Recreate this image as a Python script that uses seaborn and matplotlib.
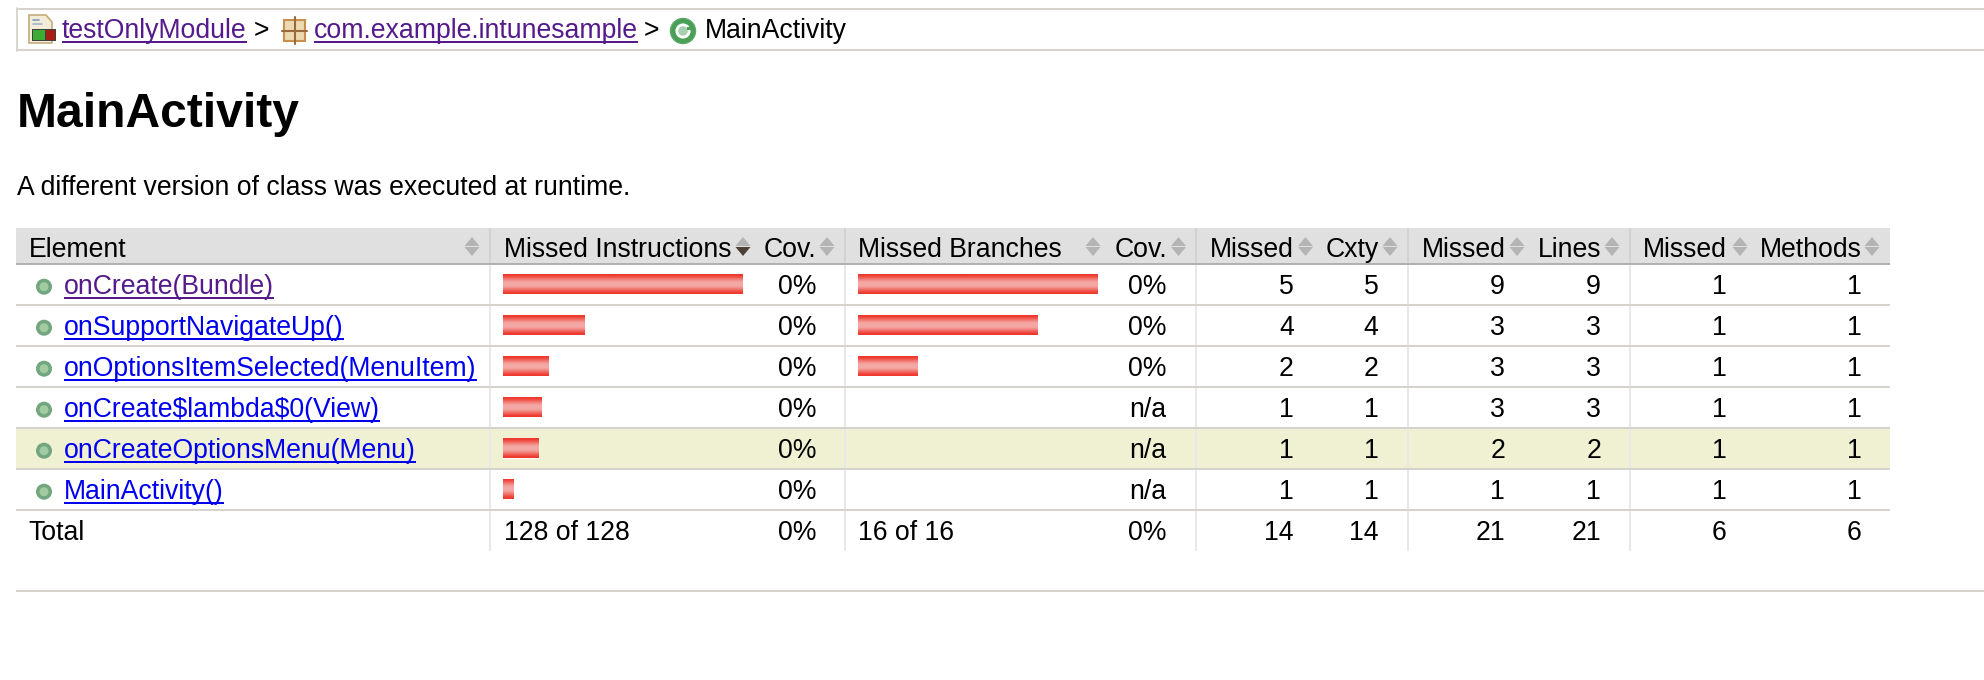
import numpy as np
import pandas as pd
import matplotlib
matplotlib.use("Agg")
import matplotlib.pyplot as plt
from matplotlib.patches import Rectangle, Ellipse, Polygon, Circle
import seaborn as sns

sns.set_theme(style="white")
plt.rcParams['font.family'] = ['Liberation Sans', 'DejaVu Sans']

# ---- data ----
elements = ["onCreate(Bundle)", "onSupportNavigateUp()", "onOptionsItemSelected(MenuItem)",
            "onCreate$lambda$0(View)", "onCreateOptionsMenu(Menu)", "MainActivity()"]
missed_instructions = [68, 23, 13, 11, 10, 3]
missed_branches = [8, 6, 2, np.nan, np.nan, np.nan]
instr_cov = ["0%", "0%", "0%", "0%", "0%", "0%"]
branch_cov = ["0%", "0%", "0%", "n/a", "n/a", "n/a"]
missed_cxty = [5, 4, 2, 1, 1, 1]
cxty = [5, 4, 2, 1, 1, 1]
missed_lines = [9, 3, 3, 3, 2, 1]
lines = [9, 3, 3, 3, 2, 1]
missed_methods = [1, 1, 1, 1, 1, 1]
methods = [1, 1, 1, 1, 1, 1]
total_row = ["128 of 128", "0%", "16 of 16", "0%", "14", "14", "21", "21", "6", "6"]
headers = ["Element", "Missed Instructions", "Cov.", "Missed Branches", "Cov.", "Missed", "Cxty",
           "Missed", "Lines", "Missed", "Methods"]
crumbs = ["testOnlyModule", "com.example.intunesample", "MainActivity"]
title = "MainActivity"
note = "A different version of class was executed at runtime."

W, H = 1984, 680
fig = plt.figure(figsize=(W / 100, H / 100), dpi=100, facecolor="white")
bg = fig.add_axes([0, 0, 1, 1])
bg.set_xlim(0, W)
bg.set_ylim(H, 0)
bg.set_axis_off()

BODY = 26.67 * 0.72
LINE = "#d6d3ce"
COL = "#e8e8e8"
PURPLE = "#551a8b"
BLUE = "#0000ee"
renderer = fig.canvas.get_renderer()


def hline(x0, x1, y, color=LINE, lw=2, z=2):
    bg.plot([x0, x1], [y, y], color=color, lw=lw * 0.72, solid_capstyle="butt", zorder=z)


def label(x, y, s, ha="left", color="black", size=BODY, weight="normal", underline=False):
    t = bg.text(x, y, s, ha=ha, va="baseline", color=color, fontsize=size, fontweight=weight,
                zorder=5, parse_math=False)
    if underline:
        w = t.get_window_extent(renderer).width
        hline(x, x + w, y + 3.5, color=color, lw=2, z=5)
    return t


# ---- breadcrumb ----
hline(16, W, 8.5)
hline(16, W, 50)
bg.plot([16.5, 16.5], [8, 50.5], color=LINE, lw=1.3, zorder=2)
# session icon
bg.add_patch(Polygon([(29, 15), (46, 15), (52, 22), (52, 43), (29, 43)], closed=True,
                     fc="#f3ecd6", ec="#c2ad7c", lw=1.2, zorder=3))
bg.plot([33, 39], [20, 20], color="#7f9fc0", lw=1.2, zorder=4)
bg.plot([33, 42], [24, 24], color="#9fb4cc", lw=1.2, zorder=4)
bg.add_patch(Rectangle((32, 29), 24, 12, fc="#404040", ec="none", zorder=4))
bg.add_patch(Rectangle((33, 30), 12, 10, fc="#3cac34", ec="none", zorder=5))
bg.add_patch(Rectangle((46, 30), 9, 10, fc="#a81e16", ec="none", zorder=5))
# package icon
bg.add_patch(Rectangle((284, 19.5), 21, 21, fc="#edd9b2", ec="#c8904e", lw=1.5, zorder=3))
bg.plot([294.5, 294.5], [17, 44], color="#9a6a3c", lw=1.5, zorder=4)
bg.plot([282, 307], [30.5, 30.5], color="#9a6a3c", lw=1.5, zorder=4)
# class icon
bg.add_patch(Circle((683, 31), 12.5, fc="#4a9f58", ec="#5aa766", lw=1, zorder=3))
bg.add_patch(Circle((683, 31), 6.2, fc="#a9d0ae", ec="white", lw=2.0, zorder=4))
bg.add_patch(Rectangle((687, 26.5), 5, 3.5, fc="#4a9f58", ec="none", zorder=5))

label(62, 38, crumbs[0], color=PURPLE, underline=True)
label(254, 38, ">")
label(314, 38, crumbs[1], color=PURPLE, underline=True)
label(644, 38, ">")
label(705, 38, crumbs[2])

# ---- heading ----
label(17, 127, title, size=48 * 0.72, weight="bold")
label(17, 195, note)

# ---- table frame ----
TL, TR = 16, 1890
PITCH = 41
ROW0 = 263.5
centers = [ROW0 + PITCH * (i + 0.5) for i in range(len(elements))]
bg.add_patch(Rectangle((TL, 228), TR - TL, 35, fc="#e0e0e0", ec="none", zorder=1))
bg.add_patch(Rectangle((TL, centers[4] - PITCH / 2), TR - TL, PITCH, fc="#f0f0d3", ec="none", zorder=1))
hline(TL, TR, 263.5, color="#b0b0b0", z=3)
for i in range(1, len(elements) + 1):
    hline(TL, TR, ROW0 + PITCH * i)
col_seps = [490, 845, 1196, 1408, 1629.5]
for x in col_seps:
    bg.plot([x, x], [264, 551], color=COL, lw=1.44, solid_capstyle="butt", zorder=1.5)
    bg.plot([x, x], [228, 263], color="#d2d2d2", lw=1.44, solid_capstyle="butt", zorder=2)
hline(16, W, 591)

# ---- header ----
hdr_x = [28.5, 504, 764, 858, 1115, 1210, 1326, 1421.5, 1537.5, 1643, 1760]
arrow_x = [472, 743, 827, 1093, 1178.5, 1305.5, 1390, 1517, 1612, 1740, 1872]
for k, (s, x, ax_) in enumerate(zip(headers, hdr_x, arrow_x)):
    label(x, 257, s)
    bg.add_patch(Polygon([(ax_ - 7.5, 246), (ax_ + 7.5, 246), (ax_, 237)], closed=True, fc="#b4b4b4", ec="none", zorder=4))
    dark = k == 1
    bg.add_patch(Polygon([(ax_ - 7.5, 247), (ax_ + 7.5, 247), (ax_, 256)], closed=True,
                         fc="#4d4036" if dark else "#b4b4b4", ec="none", zorder=4))

# ---- body ----
BASE = 10
for i, (name, yc) in enumerate(zip(elements, centers)):
    bg.add_patch(Ellipse((44, yc + 2.7), 16, 16, fc="#72a67e", ec="none", zorder=4))
    bg.add_patch(Ellipse((44, yc + 2.7), 9, 9, fc="#a2cba2", ec="none", zorder=4))
    label(64, yc + BASE, name, color=PURPLE if i == 0 else BLUE, underline=True)
    label(816.5, yc + BASE, instr_cov[i], ha="right")
    label(1166.5, yc + BASE, branch_cov[i], ha="right")
    for x, col in zip([1294, 1378.5, 1505, 1601, 1726.5, 1861.5],
                      [missed_cxty, cxty, missed_lines, lines, missed_methods, methods]):
        label(x, yc + BASE, str(col[i]), ha="right")

# ---- total ----
yt = ROW0 + PITCH * 6.5 + BASE
label(28.5, yt, "Total")
label(504, yt, total_row[0])
label(816.5, yt, total_row[1], ha="right")
label(858, yt, total_row[2])
label(1166.5, yt, total_row[3], ha="right")
for x, s in zip([1294, 1378.5, 1505, 1601, 1726.5, 1861.5], total_row[4:]):
    label(x, yt, s, ha="right")

# ---- bars ----
stops = np.array([[238, 56, 46], [240, 90, 80], [242, 130, 125], [244, 165, 162], [244, 170, 168],
                  [244, 165, 162], [242, 130, 125], [240, 90, 80], [238, 56, 46]]) / 255.0
grad = stops[:, None, :]


def bar_column(values, x_left, width_px):
    ax = fig.add_axes([x_left / W, 1 - (ROW0 + PITCH * 6) / H, width_px / W, PITCH * 6 / H])
    df = pd.DataFrame({"element": elements, "value": values}).dropna()
    sns.barplot(data=df, y="element", x="value", order=elements, orient="h",
                width=20 / PITCH, color="#ee382e", saturation=1, ax=ax)
    xlim = (0, np.nanmax(values))
    ylim = (len(elements) - 0.5, -0.5)
    for b in list(ax.patches):
        x, y, w, h = b.get_x(), b.get_y(), b.get_width(), b.get_height()
        if not np.isfinite(w) or w <= 0:
            continue
        im = ax.imshow(grad, extent=(x, x + w, y + h, y), aspect="auto", interpolation="bilinear", zorder=3)
        im.set_clip_path(b)
    ax.set_xlim(*xlim)
    ax.set_ylim(*ylim)
    ax.set_axis_off()
    ax.patch.set_alpha(0)
    return ax


bar_column(missed_instructions, 503, 240)
bar_column(missed_branches, 858, 240)

fig.savefig("out.png", dpi=100)
